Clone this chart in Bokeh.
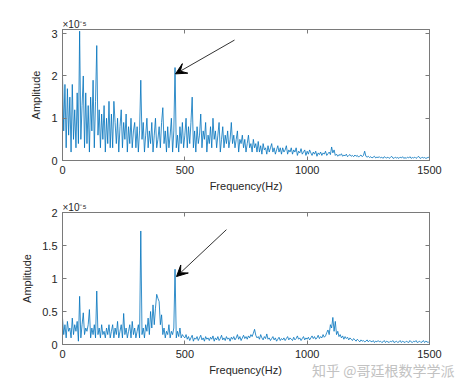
from bokeh.plotting import figure
from bokeh.models import Range1d, FixedTicker, LinearAxis, Arrow, VeeHead, Div
from bokeh.layouts import column
from bokeh.embed import file_html
from bokeh.resources import INLINE

# Frequency grid (Hz), 5 Hz spacing
freq = list(range(0, 1505, 5))

# Amplitudes in units of 1e-5
amp_top = [
    2.0, 0.7, 1.8, 0.3, 1.7, 0.6, 1.5, 0.2, 1.8, 0.5, 1.2, 0.3, 1.6, 0.4, 3.06, 0.5, 1.3, 2.0, 0.3, 1.6,
    0.4, 1.3, 0.2, 1.5, 0.7, 1.9, 0.3, 1.4, 2.72, 0.6, 1.2, 0.3, 1.1, 0.5, 1.3, 0.2, 1.0, 0.4, 1.4, 0.3,
    1.1, 0.3, 1.4, 0.9, 0.4, 1.0, 0.2, 0.8, 1.2, 0.3, 0.9, 0.5, 1.1, 0.2, 0.8, 0.4, 1.0, 0.3, 0.7, 0.9,
    0.3, 0.8, 0.2, 0.7, 1.9, 0.5, 0.9, 0.2, 0.6, 1.0, 0.3, 0.7, 0.4, 0.9, 0.2, 0.6, 1.0, 0.3, 0.5, 0.8,
    0.3, 0.9, 1.25, 0.4, 0.7, 0.2, 0.8, 0.3, 0.6, 1.0, 0.2, 0.7, 2.2, 0.3, 0.6, 0.2, 0.8, 0.4, 0.9, 0.3,
    0.6, 1.0, 0.3, 0.8, 0.4, 0.9, 1.5, 0.3, 0.7, 0.2, 0.8, 0.4, 0.6, 1.1, 0.3, 0.7, 0.5, 0.9, 0.2, 0.6,
    0.4, 0.8, 0.3, 1.0, 0.5, 0.7, 0.3, 0.6, 0.9, 0.2, 0.5, 0.8, 0.3, 0.6, 0.4, 0.7, 0.3, 0.5, 0.9, 0.4,
    0.6, 0.3, 0.5, 0.7, 0.2, 0.5, 0.4, 0.6, 0.3, 0.5, 0.2, 0.4, 0.6, 0.3, 0.4, 0.2, 0.5, 0.3, 0.4, 0.2,
    0.45, 0.2, 0.35, 0.15, 0.4, 0.25, 0.3, 0.15, 0.35, 0.2, 0.3, 0.4, 0.2, 0.3, 0.15, 0.25, 0.35, 0.2, 0.3, 0.15,
    0.3, 0.2, 0.25, 0.35, 0.15, 0.25, 0.2, 0.3, 0.15, 0.25, 0.2, 0.3, 0.12, 0.22, 0.18, 0.28, 0.15, 0.2, 0.25, 0.12,
    0.22, 0.15, 0.25, 0.18, 0.12, 0.2, 0.15, 0.22, 0.1, 0.18, 0.14, 0.2, 0.12, 0.18, 0.15, 0.22, 0.12, 0.16, 0.2, 0.14,
    0.32, 0.18, 0.25, 0.12, 0.15, 0.1, 0.14, 0.12, 0.16, 0.1, 0.13, 0.11, 0.15, 0.09, 0.12, 0.14, 0.1, 0.12, 0.09, 0.13,
    0.1, 0.12, 0.08, 0.11, 0.13, 0.09, 0.12, 0.22, 0.1, 0.08, 0.1, 0.07, 0.09, 0.06, 0.08, 0.1, 0.06, 0.08, 0.07, 0.09,
    0.06, 0.08, 0.05, 0.09, 0.07, 0.06, 0.08, 0.05, 0.07, 0.1, 0.06, 0.05, 0.08, 0.06, 0.07, 0.05, 0.08, 0.06, 0.09, 0.05,
    0.07, 0.05, 0.08, 0.06, 0.09, 0.05, 0.07, 0.06, 0.08, 0.05, 0.07, 0.1, 0.06, 0.05, 0.08, 0.06, 0.07, 0.05, 0.06, 0.08,
    0.05,
]

amp_bottom = [
    0.4, 0.15, 0.3, 0.1, 0.35, 0.2, 0.25, 0.1, 0.4, 0.15, 0.3, 0.2, 0.35, 0.05, 0.73, 0.1, 0.3, 0.48, 0.15, 0.25,
    0.2, 0.3, 0.53, 0.1, 0.25, 0.15, 0.3, 0.1, 0.81, 0.15, 0.25, 0.1, 0.3, 0.15, 0.2, 0.1, 0.25, 0.15, 0.3, 0.1,
    0.2, 0.3, 0.1, 0.25, 0.15, 0.35, 0.1, 0.2, 0.3, 0.1, 0.47, 0.15, 0.25, 0.1, 0.2, 0.3, 0.1, 0.35, 0.15, 0.25,
    0.1, 0.2, 0.3, 0.1, 1.72, 0.15, 0.25, 0.1, 0.3, 0.2, 0.4, 0.15, 0.5, 0.25, 0.6, 0.3, 0.55, 0.76, 0.7, 0.65,
    0.3, 0.45, 0.15, 0.25, 0.1, 0.2, 0.15, 0.3, 0.1, 0.2, 0.15, 0.25, 1.14, 0.1, 0.2, 0.12, 0.25, 0.1, 0.15, 0.12,
    0.1, 0.15, 0.08, 0.12, 0.06, 0.1, 0.14, 0.05, 0.1, 0.08, 0.12, 0.06, 0.1, 0.14, 0.07, 0.1, 0.05, 0.12, 0.08, 0.1,
    0.06, 0.11, 0.08, 0.13, 0.05, 0.1, 0.07, 0.12, 0.06, 0.09, 0.14, 0.07, 0.1, 0.06, 0.12, 0.08, 0.1, 0.05, 0.11, 0.08,
    0.12, 0.07, 0.1, 0.15, 0.08, 0.12, 0.06, 0.1, 0.14, 0.09, 0.12, 0.08, 0.13, 0.1, 0.15, 0.12, 0.17, 0.23, 0.14, 0.1,
    0.12, 0.08, 0.15, 0.1, 0.07, 0.12, 0.09, 0.16, 0.08, 0.1, 0.06, 0.09, 0.12, 0.07, 0.1, 0.05, 0.08, 0.11, 0.06, 0.09,
    0.07, 0.1, 0.06, 0.09, 0.12, 0.07, 0.1, 0.08, 0.06, 0.11, 0.07, 0.09, 0.13, 0.08, 0.1, 0.06, 0.09, 0.12, 0.07, 0.1,
    0.08, 0.11, 0.07, 0.1, 0.13, 0.09, 0.12, 0.08, 0.1, 0.14, 0.09, 0.12, 0.1, 0.15, 0.11, 0.13, 0.18, 0.22, 0.15, 0.3,
    0.25, 0.41, 0.2, 0.35, 0.15, 0.2, 0.12, 0.15, 0.1, 0.13, 0.08, 0.12, 0.09, 0.11, 0.07, 0.1, 0.08, 0.06, 0.09, 0.07,
    0.05, 0.08, 0.06, 0.04, 0.07, 0.05, 0.06, 0.04, 0.05, 0.07, 0.04, 0.06, 0.05, 0.04, 0.06, 0.03, 0.05, 0.04, 0.06, 0.04,
    0.05, 0.03, 0.04, 0.06, 0.03, 0.05, 0.04, 0.03, 0.05, 0.04, 0.06, 0.03, 0.04, 0.05, 0.03, 0.04, 0.06, 0.03, 0.05, 0.04,
    0.03, 0.05, 0.04, 0.03, 0.06, 0.04, 0.03, 0.05, 0.04, 0.06, 0.03, 0.04, 0.05, 0.03, 0.04, 0.06, 0.03, 0.05, 0.04, 0.03,
    0.05,
]

x_ticks = [0, 500, 1000, 1500]
y_ticks_top = [0, 1, 2, 3]
y_ticks_bottom = [0, 0.5, 1, 1.5, 2]

LINE = "#0072BD"
AXC = "#7a7a7a"
TXT = "#262626"
FONT = "Liberation Sans"
W = 466


def make_fig(height, ymax, yticks, b_top, b_bottom, xlabel):
    p = figure(width=W, height=height, x_range=Range1d(0, 1500), y_range=Range1d(0, ymax),
               output_backend="svg", toolbar_location=None,
               min_border_left=62, min_border_right=37,
               min_border_top=b_top, min_border_bottom=b_bottom)
    p.grid.visible = False
    p.outline_line_color = AXC
    p.outline_line_width = 1
    p.xaxis.ticker = FixedTicker(ticks=x_ticks)
    p.yaxis.ticker = FixedTicker(ticks=yticks)
    for ax in (p.xaxis[0], p.yaxis[0]):
        ax.major_tick_in = 4
        ax.major_tick_out = 0
        ax.minor_tick_line_color = None
        ax.axis_line_color = AXC
        ax.major_tick_line_color = AXC
        ax.major_label_text_font = FONT
        ax.major_label_text_font_size = "11px"
        ax.major_label_text_color = TXT
        ax.axis_label_text_font = FONT
        ax.axis_label_text_font_size = "11px"
        ax.axis_label_text_font_style = "normal"
        ax.axis_label_text_color = TXT
    p.xaxis.major_label_standoff = 5
    p.xaxis.axis_label_standoff = 3
    p.yaxis.major_label_standoff = 5
    p.yaxis.axis_label_standoff = 6
    if xlabel:
        p.xaxis.axis_label = xlabel
    p.yaxis.axis_label = "Amplitude"
    # box ticks on top and right (no labels)
    top_ax = LinearAxis(ticker=FixedTicker(ticks=x_ticks), major_tick_in=4, major_tick_out=0,
                        minor_tick_line_color=None, axis_line_color=AXC, major_tick_line_color=AXC,
                        major_label_overrides={t: "" for t in x_ticks}, major_label_standoff=0)
    right_ax = LinearAxis(ticker=FixedTicker(ticks=yticks), major_tick_in=4, major_tick_out=0,
                          minor_tick_line_color=None, axis_line_color=AXC, major_tick_line_color=AXC,
                          major_label_overrides={t: "" for t in yticks}, major_label_standoff=0)
    p.add_layout(top_ax, "above")
    p.add_layout(right_ax, "right")
    # exponent marker
    p.title.text = "×10⁻⁵"
    p.title.align = "left"
    p.title.text_font = FONT
    p.title.text_font_size = "10px"
    p.title.text_font_style = "normal"
    p.title.text_color = TXT
    p.title.standoff = 0
    return p


p1 = make_fig(196, 3.1, y_ticks_top, 29, 36, "Frequency(Hz)")
p1.line(freq, amp_top, line_color=LINE, line_width=0.8)
p1.add_layout(Arrow(x_start=703, y_start=2.85, x_end=462, y_end=2.05, line_color="#333333", line_width=1,
                    end=VeeHead(size=11, fill_color="black", line_color="black")))

p2 = make_fig(167, 2.0, y_ticks_bottom, 16, 19, None)
p2.line(freq, amp_bottom, line_color=LINE, line_width=0.8)
p2.add_layout(Arrow(x_start=670, y_start=1.74, x_end=466, y_end=1.03, line_color="#333333", line_width=1,
                    end=VeeHead(size=11, fill_color="black", line_color="black")))

# strip under the lower plot: x-axis title and watermark
strip_html = (
    '<div style="position:relative;width:466px;height:17px;margin:0;padding:0;overflow:visible;">'
    '<span style="position:absolute;left:0;top:0;width:491px;text-align:center;'
    'font-family:\'Liberation Sans\';font-size:11px;line-height:14px;color:#262626;'
    'white-space:nowrap;">Frequency(Hz)</span>'
    '<span style="position:absolute;left:312px;top:0px;'
    'font-family:\'Noto Sans CJK SC\';font-size:14px;line-height:14px;color:#c2c2c2;'
    'white-space:nowrap;">知乎 @哥廷根数学学派</span>'
    '</div>'
)
strip = Div(text=strip_html, width=W, height=17, margin=(0, 0, 0, 0))

layout = column(p1, p2, strip)
open("out.html", "w").write(file_html(layout, INLINE))
